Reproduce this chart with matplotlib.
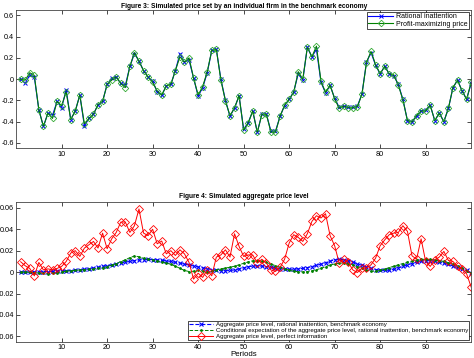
import matplotlib

matplotlib.use("Agg")
import matplotlib.pyplot as plt
from matplotlib.ticker import FuncFormatter

plt.rcParams["font.family"] = ["Liberation Sans Narrow", "Liberation Sans", "DejaVu Sans"]
plt.rcParams["axes.unicode_minus"] = False

periods = list(range(1, 101))

# Figure 3: individual firm price
rational_inattention = [
    0.0, -0.04, 0.04, 0.02, -0.29, -0.445, -0.32, -0.34, -0.21, -0.27,
    -0.10, -0.38, -0.30, -0.15, -0.44, -0.37, -0.33, -0.24, -0.21, -0.05,
    0.01, 0.02, -0.04, -0.06, 0.12, 0.24, 0.17, 0.08, 0.02, -0.02,
    -0.12, -0.15, -0.065, -0.05, 0.08, 0.24, 0.16, 0.18, 0.01, -0.16,
    -0.08, 0.06, 0.27, 0.28, 0.0, -0.20, -0.35, -0.27, -0.16, -0.47,
    -0.41, -0.30, -0.50, -0.33, -0.33, -0.49, -0.49, -0.35, -0.25, -0.19,
    -0.12, 0.05, -0.01, 0.30, 0.21, 0.28, -0.03, -0.13, -0.06, -0.18,
    -0.265, -0.255, -0.265, -0.265, -0.255, -0.14, 0.16, 0.25, 0.13, 0.05,
    0.12, 0.05, 0.03, -0.05, -0.19, -0.39, -0.40, -0.345, -0.30, -0.29,
    -0.245, -0.39, -0.32, -0.40, -0.275, -0.08, -0.01, -0.11, -0.19, -0.04,
]
profit_maximizing = [
    0.0, -0.01, 0.06, 0.035, -0.29, -0.445, -0.32, -0.37, -0.21, -0.25,
    -0.12, -0.38, -0.30, -0.15, -0.42, -0.37, -0.33, -0.24, -0.21, -0.05,
    -0.01, 0.02, -0.04, -0.08, 0.12, 0.25, 0.17, 0.08, 0.02, -0.03,
    -0.11, -0.15, -0.065, -0.05, 0.08, 0.21, 0.16, 0.20, 0.01, -0.15,
    -0.07, 0.07, 0.27, 0.28, -0.01, -0.205, -0.345, -0.27, -0.155, -0.48,
    -0.415, -0.30, -0.50, -0.335, -0.33, -0.50, -0.50, -0.35, -0.245, -0.19,
    -0.125, 0.07, 0.0, 0.30, 0.21, 0.31, -0.02, -0.125, -0.056, -0.185,
    -0.275, -0.255, -0.27, -0.27, -0.26, -0.143, 0.156, 0.26, 0.137, 0.05,
    0.12, 0.05, 0.04, -0.056, -0.196, -0.39, -0.405, -0.345, -0.30, -0.30,
    -0.245, -0.39, -0.32, -0.40, -0.275, -0.08, -0.01, -0.11, -0.19, -0.03,
]

# Figure 4: aggregate price level
aggregate_ri = [
    0.0, 0.0, 0.0001, 0.0002, 0.0003, 0.0004, 0.0005, 0.0006, 0.0008, 0.001,
    0.0012, 0.0014, 0.0017, 0.002, 0.0025, 0.003, 0.0038, 0.0045, 0.0053, 0.006,
    0.0068, 0.0076, 0.0084, 0.0092, 0.01, 0.0107, 0.0113, 0.0117, 0.0118, 0.0117,
    0.0114, 0.011, 0.0105, 0.0099, 0.0092, 0.0084, 0.0075, 0.0066, 0.0057, 0.0048,
    0.0039, 0.0031, 0.0023, 0.0017, 0.0013, 0.0012, 0.0015, 0.002, 0.003, 0.004,
    0.005, 0.0056, 0.0058, 0.0056, 0.0051, 0.0045, 0.0038, 0.0032, 0.0028, 0.0026,
    0.0027, 0.003, 0.0035, 0.0042, 0.0051, 0.0062, 0.0075, 0.0088, 0.0102, 0.0114,
    0.0119, 0.0116, 0.0106, 0.0093, 0.0078, 0.0062, 0.0047, 0.0034, 0.0024, 0.0017,
    0.0015, 0.0018, 0.0027, 0.0039, 0.0053, 0.0067, 0.008, 0.0092, 0.0101, 0.0106,
    0.0107, 0.0103, 0.0095, 0.0084, 0.0071, 0.0057, 0.0043, 0.003, 0.0015, -0.001,
]
expectation_ri = [
    0.0, 0.0, -0.0002, -0.0005, -0.0008, -0.0012, -0.0015, -0.0012, -0.0006, 0.0002,
    0.0008, 0.0012, 0.0016, 0.002, 0.0024, 0.0027, 0.003, 0.0034, 0.0042, 0.0052,
    0.0065, 0.008, 0.0097, 0.0115, 0.0135, 0.015, 0.0143, 0.0128, 0.012, 0.0113,
    0.0105, 0.0095, 0.0085, 0.0072, 0.0055, 0.0035, 0.0015, 0.0005, 0.0008, 0.0015,
    0.001, 0.0002, 0.0008, 0.002, 0.003, 0.0038, 0.0045, 0.0055, 0.0068, 0.0082,
    0.0095, 0.0105, 0.0108, 0.0103, 0.009, 0.0075, 0.006, 0.0045, 0.003, 0.0018,
    0.0008, 0.0003, 0.0002, 0.0005, 0.0012, 0.0022, 0.0035, 0.005, 0.0065, 0.0076,
    0.0083, 0.0085, 0.008, 0.0068, 0.0052, 0.0035, 0.0018, 0.0008, 0.0008, 0.0015,
    0.0028, 0.0042, 0.0055, 0.0068, 0.008, 0.0092, 0.0103, 0.0112, 0.0118, 0.012,
    0.0118, 0.0113, 0.0107, 0.0099, 0.0088, 0.0073, 0.0055, 0.0035, 0.0012, -0.001,
]
perfect_information = [
    0.0096, 0.0059, 0.0034, -0.0035, 0.009, 0.002, 0.003, 0.002, 0.0034, 0.0053,
    0.0099, 0.0177, 0.020, 0.0146, 0.0224, 0.0255, 0.0286, 0.0224, 0.0364, 0.0218,
    0.031, 0.037, 0.0467, 0.0467, 0.037, 0.0433, 0.0589, 0.0364, 0.034, 0.040,
    0.0264, 0.029, 0.017, 0.020, 0.0155, 0.0208, 0.017, 0.009, -0.0066, -0.001,
    -0.005, 0.002, -0.0035, 0.014, 0.016, 0.0208, 0.014, 0.0358, 0.024, 0.0146,
    0.016, 0.016, 0.0084, 0.012, 0.0084, 0.002, 0.0006, 0.0043, 0.012, 0.027,
    0.0349, 0.0324, 0.0286, 0.0358, 0.0473, 0.0526, 0.0505, 0.0545, 0.034, 0.0246,
    0.0084, 0.012, 0.009, 0.002, -0.0004, 0.0037, 0.0037, 0.0068, 0.013, 0.0246,
    0.030, 0.0349, 0.0364, 0.037, 0.0433, 0.038, 0.0152, 0.012, 0.031, 0.0099,
    0.0053, 0.0115, 0.014, 0.0193, 0.0108, 0.0099, 0.0053, 0.0028, -0.0016, -0.014,
]

top_title = "Figure 3: Simulated price set by an individual firm in the benchmark economy"
bottom_title = "Figure 4: Simulated aggregate price level"
top_labels = ["Rational inattention", "Profit-maximizing price"]
bottom_labels = [
    "Aggregate price level, rational inattention, benchmark economy",
    "Conditional expectation of the aggregate price level, rational inattention, benchmark economy",
    "Aggregate price level, perfect information",
]
x_ticks = [10, 20, 30, 40, 50, 60, 70, 80, 90]
top_yticks = [-0.6, -0.4, -0.2, 0, 0.2, 0.4, 0.6]
bottom_yticks = [-0.06, -0.04, -0.02, 0, 0.02, 0.04, 0.06]

TICK_FS = 5.2
TITLE_FS = 4.8
BLUE = "#0000ff"
GREEN = "#008000"
RED = "#ff0000"


def g_fmt(value, _):
    return f"{value:g}"


def style_axes(ax, yticks, ylim):
    ax.set_xlim(0, 100)
    ax.set_ylim(*ylim)
    ax.set_xticks(x_ticks)
    ax.set_yticks(yticks)
    ax.yaxis.set_major_formatter(FuncFormatter(g_fmt))
    ax.tick_params(direction="in", top=True, right=True, labelsize=TICK_FS,
                   length=3, width=0.5, pad=2)
    ax.tick_params(axis="y", pad=1.5)
    for spine in ax.spines.values():
        spine.set_linewidth(0.6)
        spine.set_color("#444444")


def add_legend(ax, loc, size, handlelength):
    leg = ax.legend(loc=loc, fontsize=size, handlelength=handlelength,
                    fancybox=False, edgecolor="black", framealpha=1,
                    borderpad=0.2, labelspacing=0.05, handletextpad=0.4,
                    borderaxespad=0.3)
    leg.get_frame().set_linewidth(0.5)


fig = plt.figure(figsize=(4.74, 3.58), dpi=100)
ax1 = fig.add_axes([0.034, 0.586, 0.960, 0.386])
ax2 = fig.add_axes([0.034, 0.0455, 0.960, 0.389])

ax1.plot(periods, rational_inattention, color=BLUE, marker="x", markersize=3,
         linewidth=0.8, markeredgewidth=0.7, label=top_labels[0])
ax1.plot(periods, profit_maximizing, color=GREEN, marker="D", markersize=3.3,
         markerfacecolor="none", markeredgecolor="#33aa33", linewidth=0.8,
         markeredgewidth=0.6, label=top_labels[1])
style_axes(ax1, top_yticks, (-0.65, 0.65))
ax1.set_title(top_title, fontsize=TITLE_FS, fontweight="bold", pad=1.5)
add_legend(ax1, "upper right", 5.0, 3.6)

ax2.plot(periods, aggregate_ri, color=BLUE, marker="x", markersize=2.5,
         linewidth=0.8, markeredgewidth=0.8, linestyle="--", label=bottom_labels[0])
ax2.plot(periods, expectation_ri, color=GREEN, marker=".", markersize=2,
         linewidth=0.7, linestyle="--", label=bottom_labels[1])
ax2.plot(periods, perfect_information, color=RED, marker="D", markersize=4,
         markerfacecolor="none", linewidth=0.7, markeredgewidth=0.6,
         label=bottom_labels[2])
style_axes(ax2, bottom_yticks, (-0.065, 0.065))
ax2.set_title(bottom_title, fontsize=TITLE_FS, fontweight="bold", pad=3)
ax2.set_xlabel("Periods", fontsize=TICK_FS + 0.5, labelpad=0)
add_legend(ax2, "lower right", 4.4, 4.0)

fig.savefig("out.png", dpi=100)
